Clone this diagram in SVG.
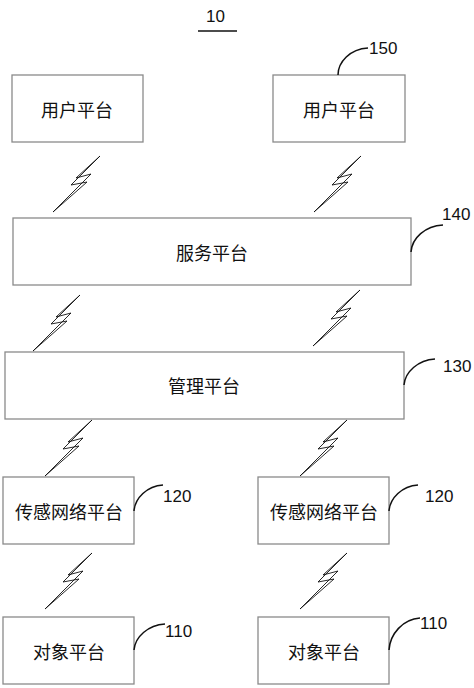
<svg xmlns="http://www.w3.org/2000/svg" width="474" height="688" viewBox="0 0 474 688">
<defs>
<style>
.box{fill:#fff;stroke:#8a8a8a;stroke-width:1.3}
.lbl{font-family:"Noto Sans CJK SC","Noto Sans",sans-serif;font-size:18px;fill:#111;text-anchor:middle;dominant-baseline:central}
.num{font-family:"Liberation Sans",Arial,sans-serif;font-size:17px;fill:#111}
.lead{fill:none;stroke:#111;stroke-width:1.5}
.bolt{fill:#fff;stroke:#111;stroke-width:0.9;stroke-linejoin:miter}
</style>
<polygon id="bolt" class="bolt" points="47,-56 18,-27 34,-30 0,0 38,-38 23,-34"/>
</defs>
<rect width="474" height="688" fill="#fff"/>
<g id="title">
<text class="num" x="206" y="22" font-size="17">10</text>
<line x1="198" y1="31" x2="237" y2="31" stroke="#111" stroke-width="1.3"/>
</g>
<g id="user-left"><rect class="box" x="12" y="75" width="131" height="67"/><text class="lbl" x="77" y="109">用户平台</text></g>
<g id="user-right"><rect class="box" x="273" y="75" width="132" height="67"/><text class="lbl" x="339" y="109">用户平台</text></g>
<g id="service"><rect class="box" x="13" y="218" width="398" height="67"/><text class="lbl" x="212" y="252">服务平台</text></g>
<g id="management"><rect class="box" x="5" y="352" width="399" height="67"/><text class="lbl" x="204" y="385">管理平台</text></g>
<g id="sensing-left"><rect class="box" x="3" y="477" width="131" height="67"/><text class="lbl" x="69" y="511">传感网络平台</text></g>
<g id="sensing-right"><rect class="box" x="258" y="477" width="131" height="67"/><text class="lbl" x="324" y="511">传感网络平台</text></g>
<g id="object-left"><rect class="box" x="3" y="617" width="131" height="67"/><text class="lbl" x="69" y="651">对象平台</text></g>
<g id="object-right"><rect class="box" x="258" y="617" width="131" height="67"/><text class="lbl" x="324" y="651">对象平台</text></g>
<g id="connectors">
<use href="#bolt" transform="translate(53,212)"/>
<use href="#bolt" transform="translate(314,212)"/>
<use href="#bolt" transform="translate(33,351)"/>
<use href="#bolt" transform="translate(313,346)"/>
<use href="#bolt" transform="translate(45,476)"/>
<use href="#bolt" transform="translate(300,476)"/>
<use href="#bolt" transform="translate(45,609)"/>
<use href="#bolt" transform="translate(300,609)"/>
</g>
<g id="labels">
<path class="lead" d="M338,75 C338,62 350,49 368,48"/><text class="num" x="369" y="54">150</text>
<path class="lead" d="M411,252 C412,238 425,226 443,225"/><text class="num" x="442" y="220">140</text>
<path class="lead" d="M404,385 C405,372 418,360 435,359"/><text class="num" x="443" y="372">130</text>
<path class="lead" d="M134,511 C135,498 147,486 163,485"/><text class="num" x="163" y="502">120</text>
<path class="lead" d="M389,511 C390,498 402,486 418,485"/><text class="num" x="425" y="502">120</text>
<path class="lead" d="M134,650 C135,637 148,625 165,624"/><text class="num" x="165" y="637">110</text>
<path class="lead" d="M389,650 C390,634 403,619 420,618"/><text class="num" x="420" y="629">110</text>
</g>
</svg>
